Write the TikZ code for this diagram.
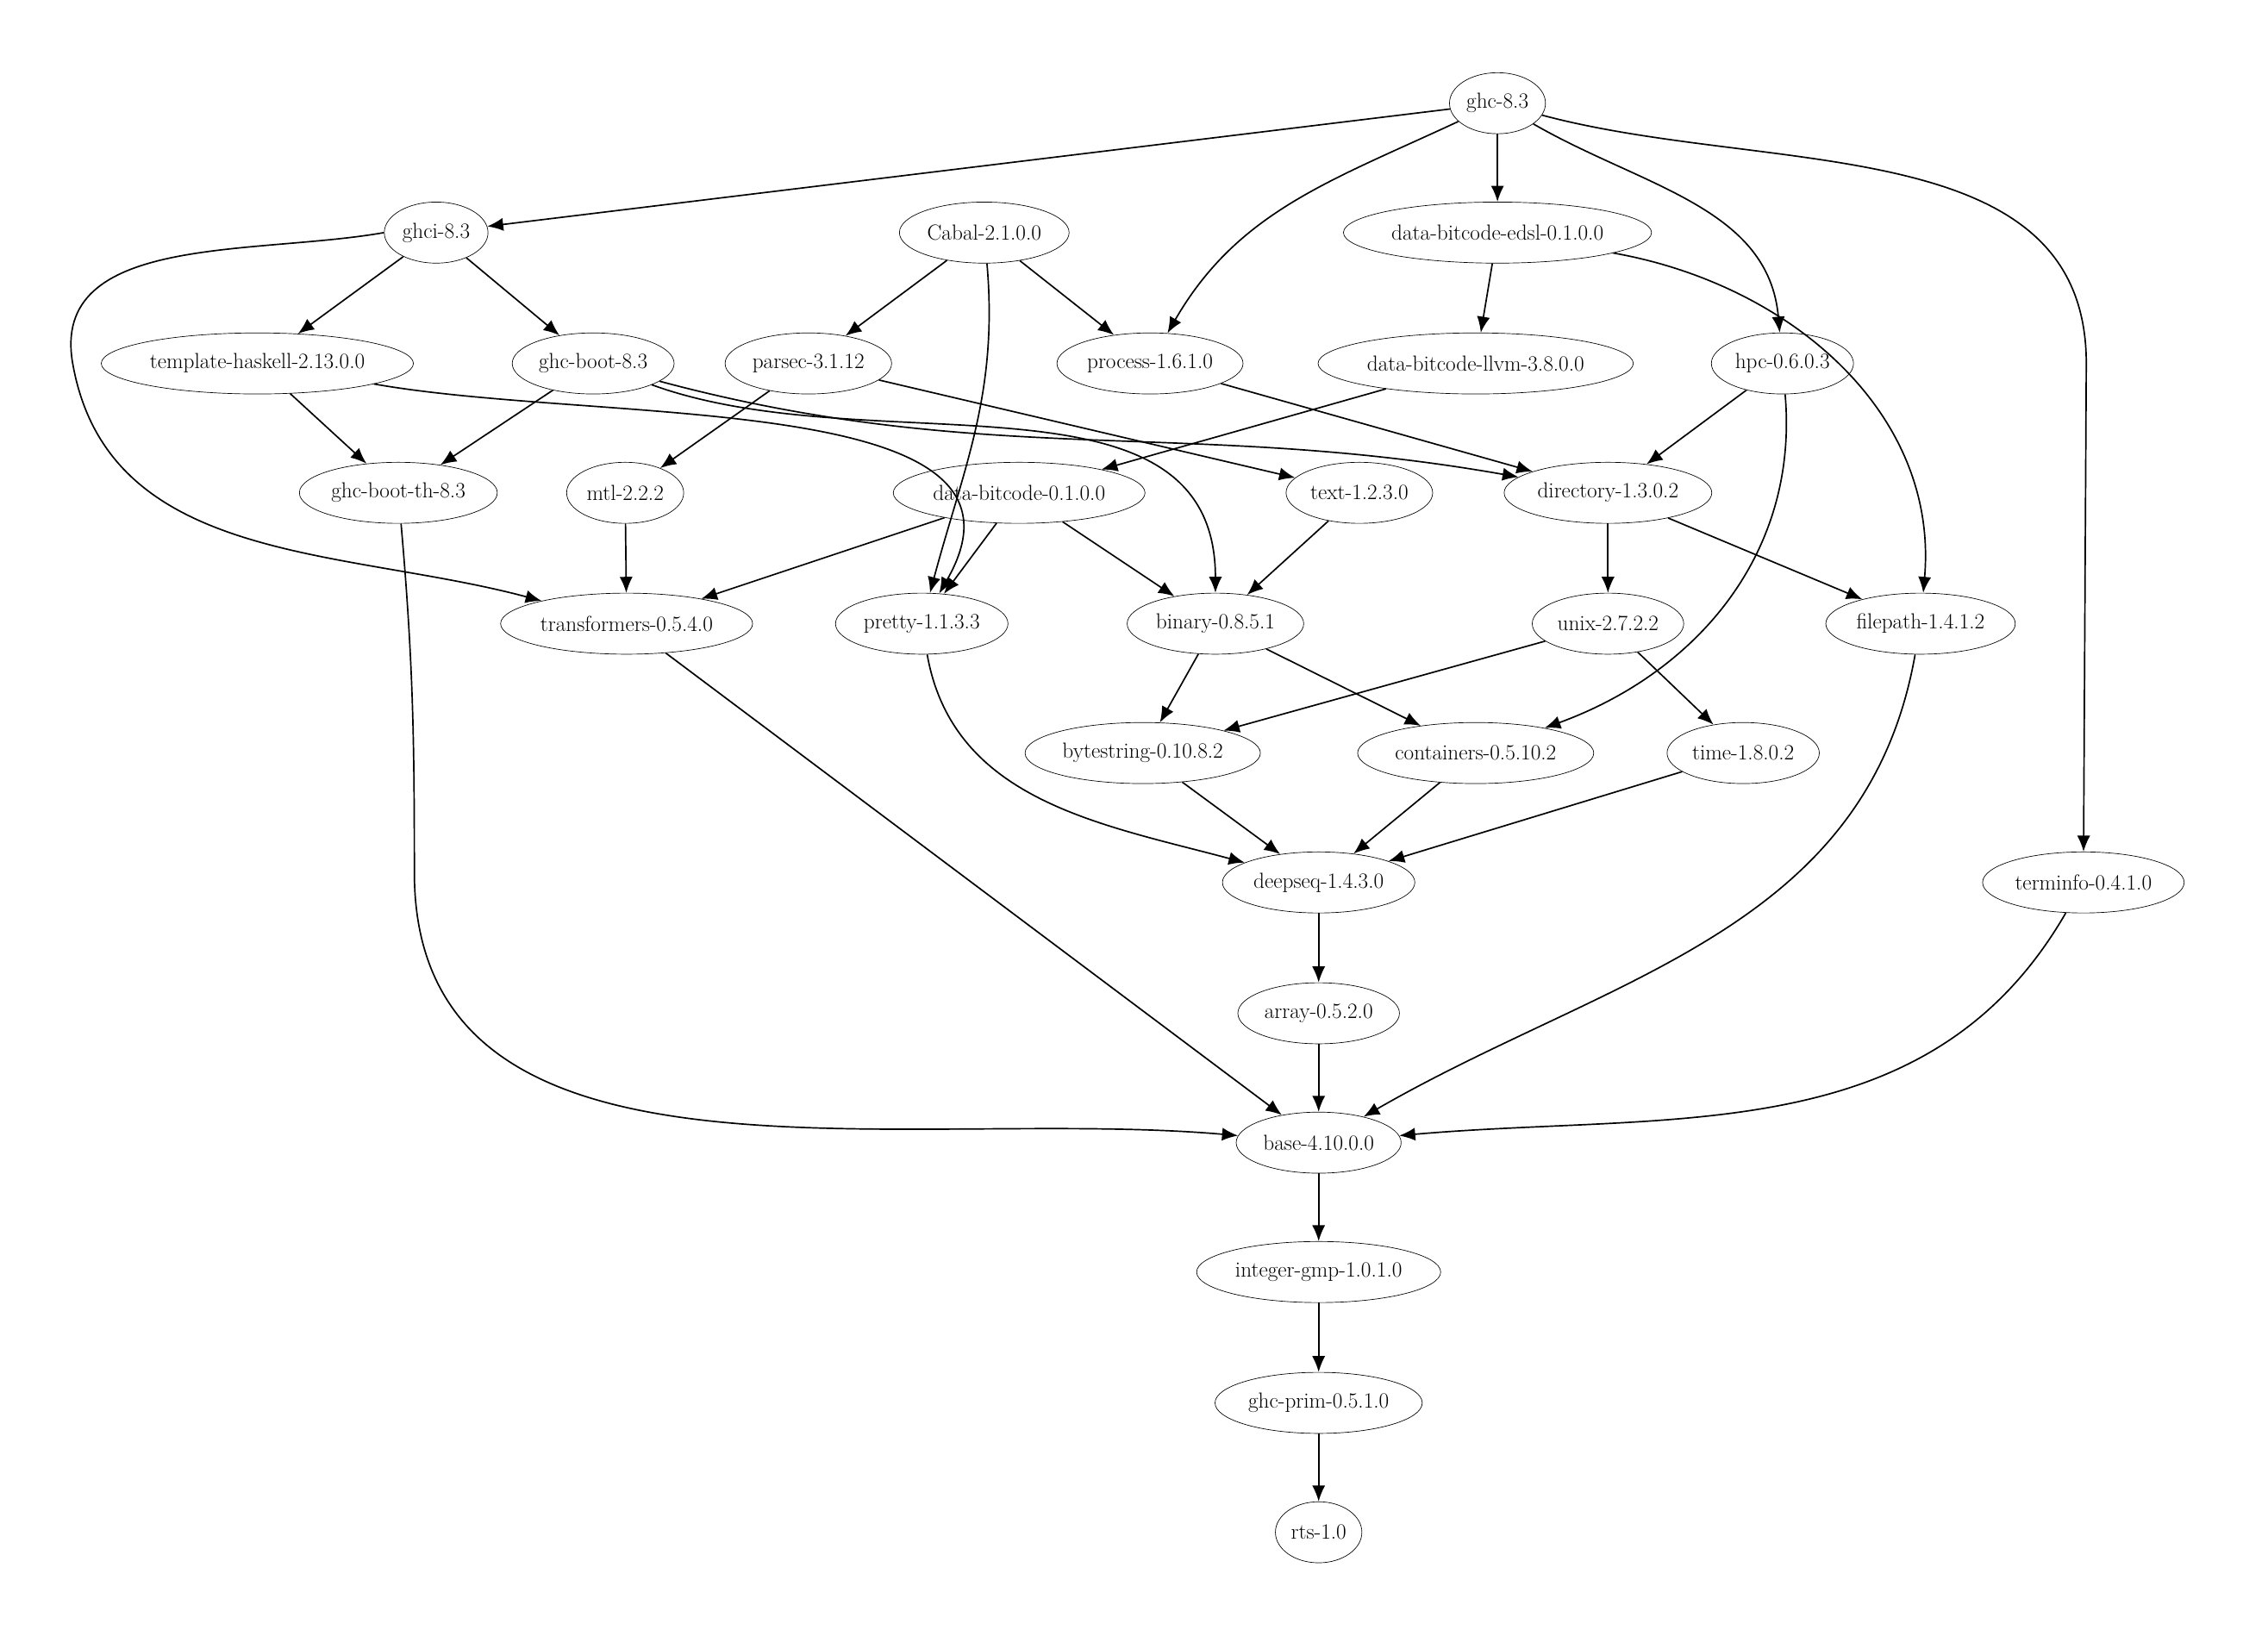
\documentclass[tikz,border=0pt]{standalone}
\usepackage{tikz}
\usetikzlibrary{shapes.geometric,arrows.meta}
\begin{document}
\begin{tikzpicture}[x=1pt,y=-1pt,
		node_style/.style={ellipse,draw=black,minimum height=42pt,inner xsep=2pt,font=\fontsize{15}{18}\selectfont},
		edge_style/.style={draw=black,line width=1pt,-{Latex[length=11pt,width=9pt]}}]
		\useasboundingbox (0,0) rectangle (1560,1121);

		\node[node_style] (ghc) at (1030,71) {ghc-8.3};
		\node[node_style] (ghci) at (300,160) {ghci-8.3};
		\node[node_style] (cabal) at (677,160) {Cabal-2.1.0.0};
		\node[node_style] (edsl) at (1030,160) {data-bitcode-edsl-0.1.0.0};
		\node[node_style] (th) at (177,250) {template-haskell-2.13.0.0};
		\node[node_style] (boot) at (408,250) {ghc-boot-8.3};
		\node[node_style] (parsec) at (556,250) {parsec-3.1.12};
		\node[node_style] (process) at (791,250) {process-1.6.1.0};
		\node[node_style] (llvm) at (1015,250) {data-bitcode-llvm-3.8.0.0};
		\node[node_style] (hpc) at (1226,250) {hpc-0.6.0.3};
		\node[node_style] (bootth) at (274,339) {ghc-boot-th-8.3};
		\node[node_style] (mtl) at (430,339) {mtl-2.2.2};
		\node[node_style] (bitcode) at (701,339) {data-bitcode-0.1.0.0};
		\node[node_style] (text) at (935,339) {text-1.2.3.0};
		\node[node_style] (directory) at (1106,339) {directory-1.3.0.2};
		\node[node_style] (trans) at (431,429) {transformers-0.5.4.0};
		\node[node_style] (pretty) at (634,429) {pretty-1.1.3.3};
		\node[node_style] (binary) at (836,429) {binary-0.8.5.1};
		\node[node_style] (unix) at (1106,429) {unix-2.7.2.2};
		\node[node_style] (filepath) at (1321,429) {filepath-1.4.1.2};
		\node[node_style] (bytes) at (786,518) {bytestring-0.10.8.2};
		\node[node_style] (contain) at (1015,518) {containers-0.5.10.2};
		\node[node_style] (time) at (1199,518) {time-1.8.0.2};
		\node[node_style] (terminfo) at (1433,607) {terminfo-0.4.1.0};
		\node[node_style] (deepseq) at (907,607) {deepseq-1.4.3.0};
		\node[node_style] (array) at (907,697) {array-0.5.2.0};
		\node[node_style] (base) at (907,786) {base-4.10.0.0};
		\node[node_style] (gmp) at (907,875) {integer-gmp-1.0.1.0};
		\node[node_style] (prim) at (907,965) {ghc-prim-0.5.1.0};
		\node[node_style] (rts) at (907,1054) {rts-1.0};

		\draw[edge_style] (ghc) -- (ghci);
		\draw[edge_style] (ghc) to[out=205,in=60] (process);
		\draw[edge_style] (ghc) -- (edsl);
		\draw[edge_style] (ghc) to[out=-30,in=95] (hpc);
		\draw[edge_style] (ghc) to[out=-15,in=90] (1435,250) -- (terminfo);
		\draw[edge_style] (ghci) -- (th);
		\draw[edge_style] (ghci) -- (boot);
		\draw[edge_style] (ghci.west) to[out=190,in=100] (50,250) to[out=-80,in=165] (trans);
		\draw[edge_style] (cabal) -- (parsec);
		\draw[edge_style] (cabal) -- (process);
		\draw[edge_style] (cabal) to[out=-85,in=75] (pretty);
		\draw[edge_style] (edsl) -- (llvm);
		\draw[edge_style] (edsl) to[out=-10,in=85] (filepath);
		\draw[edge_style] (th) -- (bootth);
		\draw[edge_style] (th) to[out=-10,in=60] (pretty);
		\draw[edge_style] (boot) -- (bootth);
		\draw[edge_style] (boot) to[out=-20,in=90] (binary);
		\draw[edge_style] (boot) to[out=-15,in=170] (directory);
		\draw[edge_style] (parsec) -- (mtl);
		\draw[edge_style] (parsec) -- (text);
		\draw[edge_style] (process) -- (directory);
		\draw[edge_style] (llvm) -- (bitcode);
		\draw[edge_style] (hpc) -- (directory);
		\draw[edge_style] (hpc) to[out=-85,in=20] (contain);
		\draw[edge_style] (bootth) to[out=-85,in=90] (285,600) to[out=-90,in=175] (base);
		\draw[edge_style] (mtl) -- (trans);
		\draw[edge_style] (bitcode) -- (trans);
		\draw[edge_style] (bitcode) -- (pretty);
		\draw[edge_style] (bitcode) -- (binary);
		\draw[edge_style] (text) -- (binary);
		\draw[edge_style] (directory) -- (unix);
		\draw[edge_style] (directory) -- (filepath);
		\draw[edge_style] (trans) -- (base);
		\draw[edge_style] (pretty) to[out=-80,in=165] (deepseq);
		\draw[edge_style] (binary) -- (bytes);
		\draw[edge_style] (binary) -- (contain);
		\draw[edge_style] (unix) -- (bytes);
		\draw[edge_style] (unix) -- (time);
		\draw[edge_style] (filepath) to[out=-100,in=30] (base);
		\draw[edge_style] (bytes) -- (deepseq);
		\draw[edge_style] (contain) -- (deepseq);
		\draw[edge_style] (time) -- (deepseq);
		\draw[edge_style] (terminfo) to[out=-120,in=5] (base);
		\draw[edge_style] (deepseq) -- (array);
		\draw[edge_style] (array) -- (base);
		\draw[edge_style] (base) -- (gmp);
		\draw[edge_style] (gmp) -- (prim);
		\draw[edge_style] (prim) -- (rts);

		\end{tikzpicture}
\end{document}
